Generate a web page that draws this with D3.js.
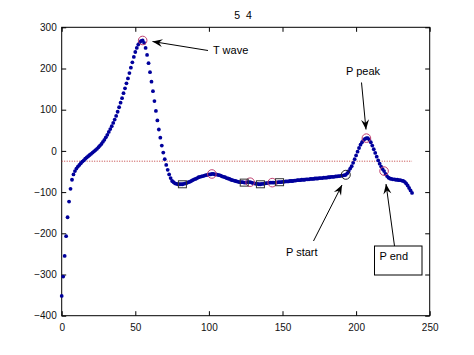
<!DOCTYPE html>
<html><head><meta charset="utf-8">
<script src="https://cdn.jsdelivr.net/npm/d3@7"></script>
<style>body{margin:0;background:#fff}svg{display:block}text{font-family:"Liberation Sans",Arial,sans-serif}</style>
</head><body>
<script>
// sample values, index = sample number (starting at 0)
const values = [
-352,-305,-255,-207,-161,-123,-92,-70,-57,-49,
-43,-38,-34,-30,-26,-23,-19,-16,-13,-10,
-7,-4,-1,2,5,9,13,17,22,27,
33,39,46,53,60,68,76,85,95,106,
117,128,140,152,164,176,189,202,215,228,
240,250,258,264,267,268,262,250,233,213,
191,168,145,121,97,74,52,32,13,-4,
-20,-34,-46,-57,-66,-73,-76,-79,-80,-81,
-81,-81,-81,-80,-79,-78,-76,-75,-73,-71,
-69,-68,-66,-64,-63,-62,-61,-60,-59,-58,
-57,-57,-56,-56,-57,-57,-58,-59,-60,-62,
-63,-64,-66,-67,-68,-70,-71,-72,-73,-74,
-75,-76,-76,-76,-77,-77,-76,-76,-76,-77,
-78,-79,-80,-80,-81,-81,-80,-80,-79,-78,
-78,-77,-77,-77,-77,-77,-77,-76,-76,-76,
-75,-75,-74,-74,-74,-73,-73,-73,-72,-72,
-71,-71,-71,-70,-70,-70,-69,-69,-69,-68,
-68,-68,-67,-67,-67,-66,-66,-66,-65,-65,
-65,-64,-64,-63,-63,-63,-62,-62,-61,-61,
-60,-60,-59,-58,-54,-49,-43,-37,-29,-20,
-11,-2,7,15,21,26,29,31,31,27,
21,13,4,-5,-14,-23,-31,-38,-44,-49,
-56,-61,-65,-67,-68,-69,-69,-70,-70,-71,
-71,-72,-73,-75,-79,-84,-90,-96,-102
];
const threshold = -25;
const redCircleIdx = [55, 102, 128, 143, 207, 219];
const squareIdx = [82, 124, 135, 148];
const blackCircleIdx = [193];
const xTicks = [0, 50, 100, 150, 200, 250];
const yTicks = [-400, -300, -200, -100, 0, 100, 200, 300];
const title = "5  4";

const W = 474, H = 355;
const svg = d3.select("body").append("svg").attr("width", W).attr("height", H);
const x = d3.scaleLinear().domain([0, 250]).range([61.7, 429.7]);
const y = d3.scaleLinear().domain([-400, 300]).range([315.7, 27.3]);
const T = 4.5;

// frame + axes
svg.append("rect").attr("x", x(0)).attr("y", y(300)).attr("width", x(250) - x(0)).attr("height", y(-400) - y(300))
  .attr("fill", "#fff").attr("stroke", "#000").attr("stroke-width", 1);

function styleAxis(g, labels) {
  g.select(".domain").remove();
  g.selectAll("line").attr("stroke", "#000");
  g.selectAll("text").attr("font-size", 10).attr("fill", "#111").attr("font-family", '"Liberation Sans",Arial,sans-serif');
  if (!labels) g.selectAll("text").remove();
}
svg.append("g").attr("transform", `translate(0,${y(-400)})`)
  .call(d3.axisBottom(x).tickValues(xTicks).tickSizeInner(-T).tickSizeOuter(0).tickPadding(8))
  .call(g => styleAxis(g, true));
svg.append("g").attr("transform", `translate(0,${y(300)})`)
  .call(d3.axisTop(x).tickValues(xTicks).tickSizeInner(-T).tickSizeOuter(0))
  .call(g => styleAxis(g, false));
svg.append("g").attr("transform", `translate(${x(0)},0)`)
  .call(d3.axisLeft(y).tickValues(yTicks).tickSizeInner(-T).tickSizeOuter(0).tickPadding(5))
  .call(g => styleAxis(g, true));
svg.append("g").attr("transform", `translate(${x(250)},0)`)
  .call(d3.axisRight(y).tickValues(yTicks).tickSizeInner(-T).tickSizeOuter(0))
  .call(g => styleAxis(g, false));

// title
svg.append("text").attr("x", 243).attr("y", 19).attr("text-anchor", "middle").attr("font-size", 10.5)
  .style("white-space", "pre").attr("xml:space", "preserve").text(title);

// threshold line
svg.append("line").attr("x1", x(0)).attr("x2", x(values.length - 1)).attr("y1", y(threshold)).attr("y2", y(threshold))
  .attr("stroke", "#c03a3a").attr("stroke-width", 1).attr("stroke-dasharray", "1,1.5");

// data points
svg.append("g").selectAll("circle").data(values).join("circle")
  .attr("cx", (d, i) => x(i)).attr("cy", d => y(d)).attr("r", 1.9).attr("fill", "#00009c");

// markers
svg.append("g").selectAll("circle").data(redCircleIdx).join("circle")
  .attr("cx", i => x(i)).attr("cy", i => y(values[i])).attr("r", 4.3)
  .attr("fill", "none").attr("stroke", "#c04070").attr("stroke-width", 1);
svg.append("g").selectAll("rect").data(squareIdx).join("rect")
  .attr("x", i => x(i) - 4).attr("y", i => y(values[i]) - 3.5).attr("width", 8).attr("height", 7)
  .attr("fill", "none").attr("stroke", "#333").attr("stroke-width", 1);
svg.append("g").selectAll("circle").data(blackCircleIdx).join("circle")
  .attr("cx", i => x(i)).attr("cy", i => y(values[i])).attr("r", 4.5)
  .attr("fill", "none").attr("stroke", "#222").attr("stroke-width", 1);

// annotations
function arrow(x1, y1, x2, y2) {
  svg.append("line").attr("x1", x1).attr("y1", y1).attr("x2", x2).attr("y2", y2).attr("stroke", "#000").attr("stroke-width", 1);
  const a = Math.atan2(y2 - y1, x2 - x1) * 180 / Math.PI;
  svg.append("path").attr("d", "M0,0 L-10,-4 L-6.5,0 L-10,4 Z").attr("fill", "#000")
    .attr("transform", `translate(${x2},${y2}) rotate(${a})`);
}
function label(tx, ty, s) {
  svg.append("text").attr("x", tx).attr("y", ty).attr("font-size", 11).attr("fill", "#000").text(s);
}
arrow(208, 50.5, 152.5, 41.5);
label(213, 54, "T wave");
arrow(361.5, 82.5, 366, 129.5);
label(346, 75, "P peak");
arrow(313.5, 241, 342, 185);
label(286, 256, "P start");
svg.append("rect").attr("x", 374.5).attr("y", 246).attr("width", 47.5).attr("height", 29)
  .attr("fill", "#fff").attr("stroke", "#000").attr("stroke-width", 1);
arrow(394.5, 246, 386, 184);
label(379.5, 260, "P end");
</script>
</body></html>
